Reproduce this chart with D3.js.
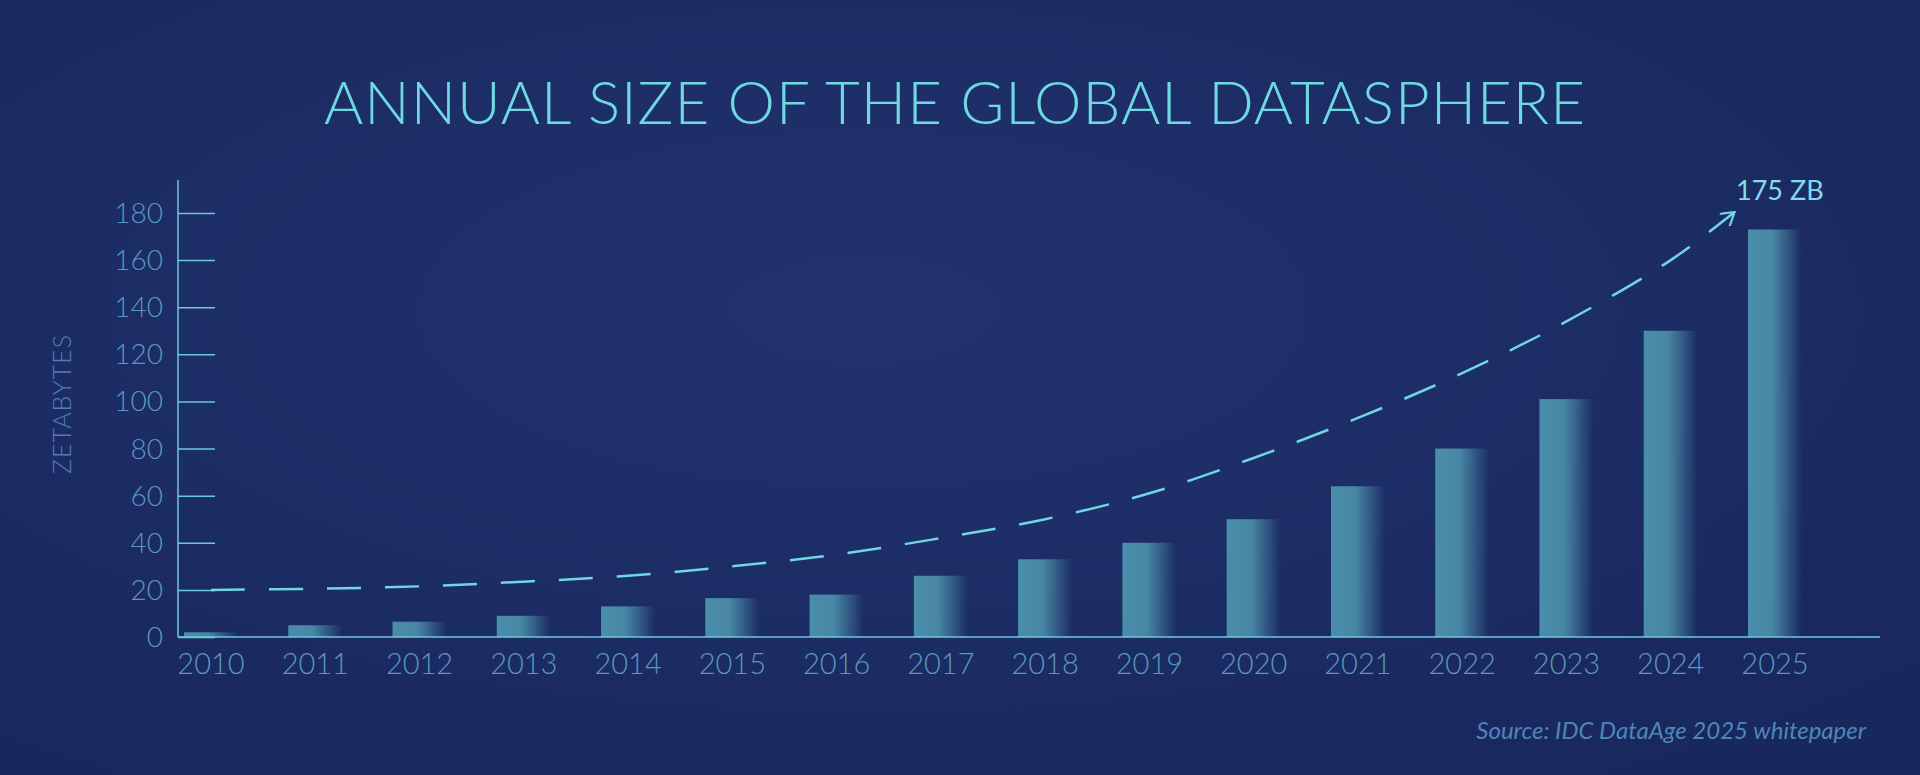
<!DOCTYPE html>
<html>
<head>
<meta charset="utf-8">
<script src="https://cdn.jsdelivr.net/npm/d3@7"></script>
<style>
  html, body { margin: 0; padding: 0; background: #1c2b63; }
  svg { display: block; font-family: Lato, "Noto Sans", sans-serif; }
</style>
</head>
<body>
<svg id="chart" width="1920" height="775"></svg>
<script>
// data
var years = [2010, 2011, 2012, 2013, 2014, 2015, 2016, 2017, 2018, 2019, 2020, 2021, 2022, 2023, 2024, 2025];
var zettabytes = [2, 5, 6.5, 9, 13, 16.5, 18, 26, 33, 40, 50, 64, 80, 101, 130, 173];
var trendYears = [2010, 2011, 2012, 2013, 2014, 2015, 2016, 2017, 2018, 2019, 2020, 2021, 2022, 2023, 2024, 2024.6];
var trendValues = [20, 20.5, 21.5, 23.5, 26, 30, 35, 42, 50, 61, 76, 93, 112, 134, 160, 180];
var yTicks = [0, 20, 40, 60, 80, 100, 120, 140, 160, 180];

var svg = d3.select("#chart");
var defs = svg.append("defs");

var bg = defs.append("radialGradient").attr("id", "bg")
    .attr("cx", "45%").attr("cy", "40%").attr("r", "75%");
bg.append("stop").attr("offset", "0%").attr("stop-color", "#21326f");
bg.append("stop").attr("offset", "100%").attr("stop-color", "#18275c");

var barGrad = defs.append("linearGradient").attr("id", "barGrad")
    .attr("x1", "0%").attr("x2", "100%");
barGrad.append("stop").attr("offset", "0%").attr("stop-color", "#4a8eaa");
barGrad.append("stop").attr("offset", "45%").attr("stop-color", "#4887a4");
barGrad.append("stop").attr("offset", "100%").attr("stop-color", "#4887a4").attr("stop-opacity", 0);

var arrowHead = defs.append("marker").attr("id", "arrow")
    .attr("viewBox", "0 0 10 10").attr("refX", 8).attr("refY", 5)
    .attr("markerWidth", 16).attr("markerHeight", 16).attr("orient", "auto")
    .attr("markerUnits", "userSpaceOnUse");
arrowHead.append("path").attr("d", "M1,0 L9,5 L1,10")
    .attr("fill", "none").attr("stroke", "#6fd6e2").attr("stroke-width", 1.4);

svg.append("rect").attr("width", 1920).attr("height", 775).attr("fill", "url(#bg)");

var x = d3.scaleLinear().domain([2010, 2025]).range([211, 1775]);
var y = d3.scaleLinear().domain([0, 180]).range([637, 213]);
var barW = 54;

svg.append("text")
    .attr("x", 955).attr("y", 124)
    .attr("text-anchor", "middle")
    .attr("font-size", 60).attr("font-weight", 300)
    .attr("letter-spacing", 1)
    .attr("fill", "#6fd9e2")
    .text("ANNUAL SIZE OF THE GLOBAL DATASPHERE");

// bars
svg.selectAll("rect.bar").data(years).enter().append("rect")
    .attr("class", "bar")
    .attr("x", function(d) { return x(d) - barW / 2; })
    .attr("y", function(d, i) { return y(zettabytes[i]); })
    .attr("width", barW)
    .attr("height", function(d, i) { return y(0) - y(zettabytes[i]); })
    .attr("fill", "url(#barGrad)");

// y axis
var yAxis = svg.append("g").attr("transform", "translate(178,0)")
    .call(d3.axisRight(y).tickValues(yTicks).tickSize(37).tickFormat(""));
yAxis.select(".domain").remove();
yAxis.selectAll("line").attr("stroke", "#6cc8dc").attr("stroke-width", 1.5);
svg.append("line").attr("x1", 178).attr("x2", 178).attr("y1", 180).attr("y2", 637)
    .attr("stroke", "#6cc8dc").attr("stroke-width", 1.5);
svg.selectAll("text.ytick").data(yTicks).enter().append("text")
    .attr("class", "ytick")
    .attr("x", 163).attr("y", function(d) { return y(d) + 10; })
    .attr("text-anchor", "end")
    .attr("font-size", 28).attr("font-weight", 300)
    .attr("fill", "#5a98bd")
    .text(function(d) { return d; });

svg.append("text")
    .attr("transform", "translate(71,404) rotate(-90)")
    .attr("text-anchor", "middle")
    .attr("font-size", 25).attr("font-weight", 300)
    .attr("letter-spacing", 1)
    .attr("fill", "#4f7fb0")
    .text("ZETABYTES");

// x axis
svg.append("line").attr("x1", 178).attr("x2", 1880).attr("y1", 637).attr("y2", 637)
    .attr("stroke", "#6cc8dc").attr("stroke-width", 1.5);
svg.selectAll("text.xtick").data(years).enter().append("text")
    .attr("class", "xtick")
    .attr("x", function(d) { return x(d); }).attr("y", 674)
    .attr("text-anchor", "middle")
    .attr("font-size", 29).attr("font-weight", 300)
    .attr("fill", "#5a98bd")
    .text(function(d) { return d; });

// trend line
var line = d3.line()
    .x(function(d, i) { return x(trendYears[i]); })
    .y(function(d) { return y(d); })
    .curve(d3.curveCatmullRom);
svg.append("path").datum(trendValues)
    .attr("d", line)
    .attr("fill", "none")
    .attr("stroke", "#6fd6e2").attr("stroke-width", 2.5)
    .attr("stroke-dasharray", "34,24")
    .attr("marker-end", "url(#arrow)");

svg.append("text")
    .attr("x", 1736).attr("y", 200)
    .attr("font-size", 27)
    .attr("fill", "#7fdde6")
    .text("175 ZB");

svg.append("text")
    .attr("x", 1866).attr("y", 739)
    .attr("text-anchor", "end")
    .attr("font-size", 24).attr("font-style", "italic")
    .attr("fill", "#4f86b8")
    .text("Source: IDC DataAge 2025 whitepaper");
</script>
</body>
</html>
